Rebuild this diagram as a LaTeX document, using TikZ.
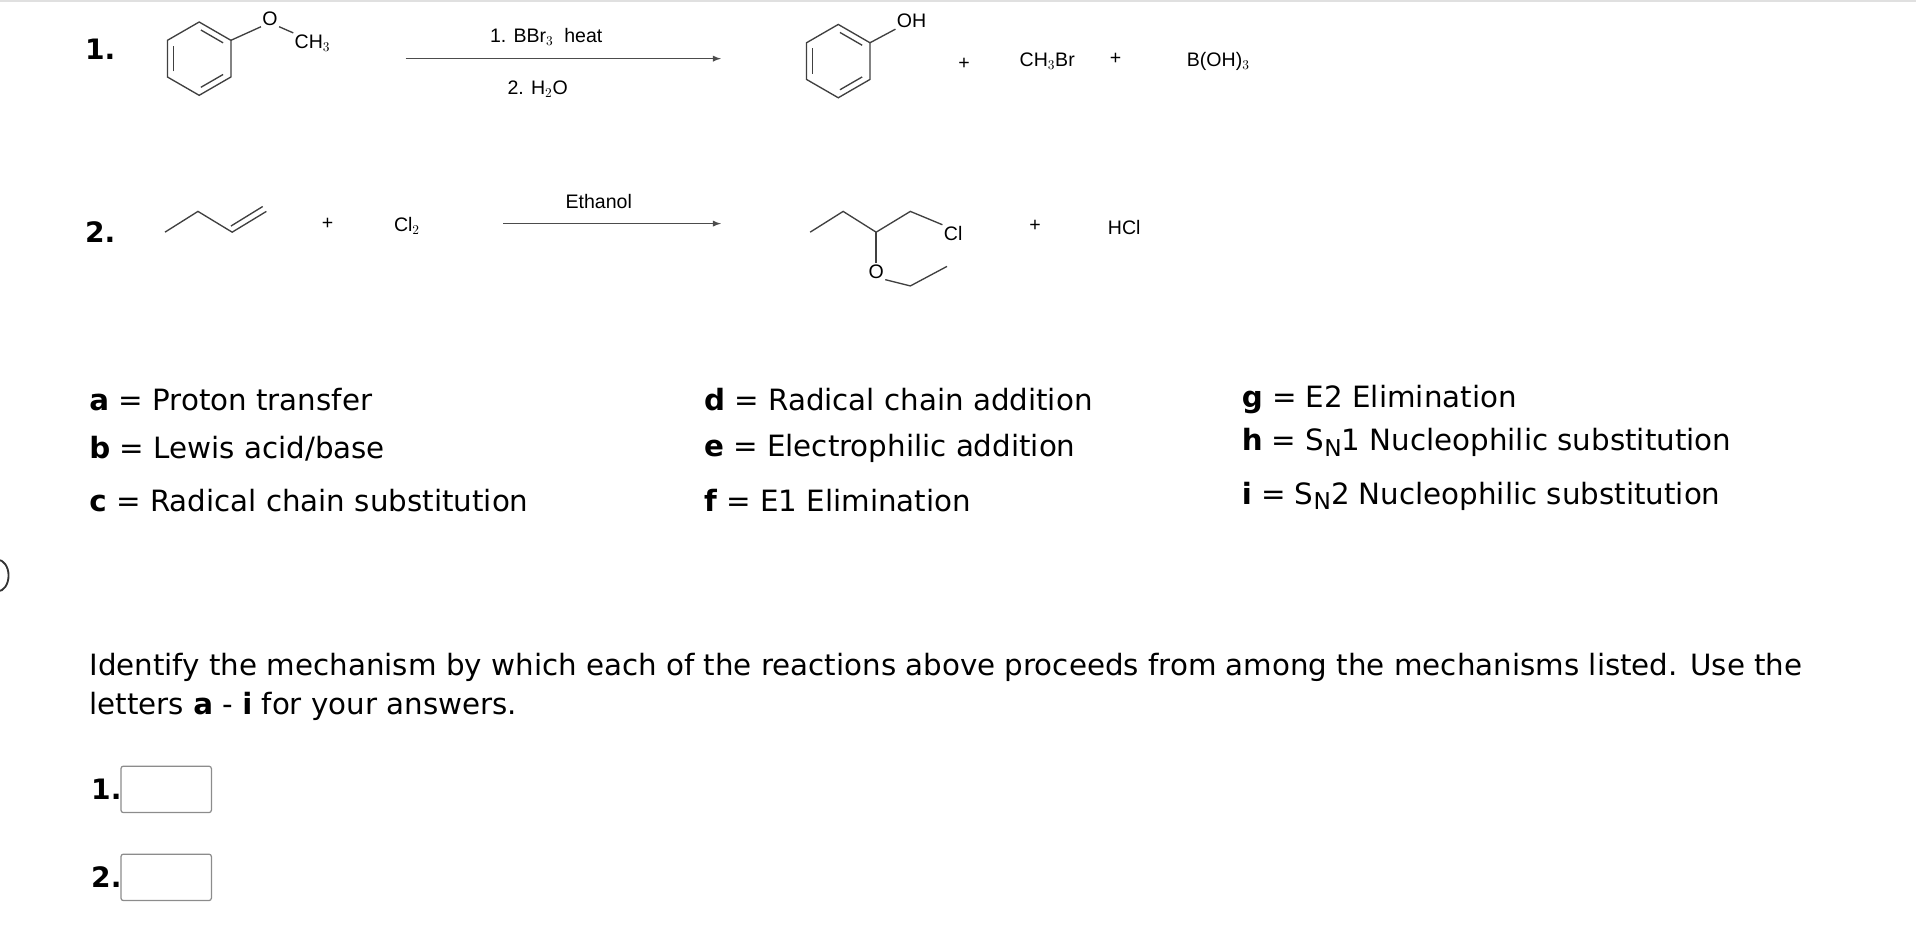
\documentclass[tikz,border=0pt]{standalone}
\usepackage{fontspec}
\usetikzlibrary{calc}
\setmainfont{DejaVu Sans}
\newfontfamily\chem{Liberation Sans}
\begin{document}
\begin{tikzpicture}[x=1pt,y=-1pt,
  ch/.style={font=\chem\fontsize{16}{18}\selectfont,inner sep=1pt},
  txt/.style={font=\fontsize{24}{28}\selectfont,anchor=west,inner sep=0pt},
  num/.style={font=\bfseries\fontsize{23}{27}\selectfont,inner sep=0pt},
  bond/.style={line width=1.1pt,color=black!75},
  arr/.style={line width=1.3pt,color=black!70,-latex},
  ansbox/.style={draw=black!45,rounded corners=2pt,line width=1pt,minimum width=74pt,minimum height=38pt,inner sep=0pt}]
\useasboundingbox (0,0) rectangle (1568,758);
\draw[black!12,line width=2pt] (0,1) -- (1568,1);
\draw[black!80,line width=1.5pt] (-2,484) arc (90:-90:9 and 13);
% reaction 1
\node[num] (n1) at (82,40) {1.};
\foreach \a [count=\i] in {90,30,-30,-90,-150,150} \coordinate (r\i) at ($(163,48)+(\a:30 and -30)$);
\draw[bond] (r1)--(r2)--(r3)--(r4)--(r5)--(r6)--cycle;
\draw[bond] ($(r5)!0.15!(r6)+(5,0)$)--($(r6)!0.15!(r5)+(5,0)$);
\draw[bond] ($(r3)!0.15!(r4)+(-2.5,-4.3)$)--($(r4)!0.15!(r3)+(-2.5,-4.3)$);
\draw[bond] ($(r1)!0.15!(r2)+(-2.5,4.3)$)--($(r2)!0.15!(r1)+(-2.5,4.3)$);
\node[ch] (o1) at (221,15) {O};
\node[ch,anchor=west] (me) at (240,35) {CH$_3$};
\draw[bond] (r2)--(o1.south west);
\draw[bond] (o1.south east)--(me.north west);
\draw[arr] (332,48) coordinate (a1s) -- (590,48) coordinate (a1e);
\node[ch] (c1) at (447,30) {1. BBr$_3$\ \ heat};
\node[ch] (c2) at (440,73) {2. H$_2$O};
\foreach \a [count=\i] in {90,30,-30,-90,-150,150} \coordinate (p\i) at ($(686,50)+(\a:30 and -30)$);
\draw[bond] (p1)--(p2)--(p3)--(p4)--(p5)--(p6)--cycle;
\draw[bond] ($(p5)!0.15!(p6)+(5,0)$)--($(p6)!0.15!(p5)+(5,0)$);
\draw[bond] ($(p3)!0.15!(p4)+(-2.5,-4.3)$)--($(p4)!0.15!(p3)+(-2.5,-4.3)$);
\draw[bond] ($(p1)!0.15!(p2)+(-2.5,4.3)$)--($(p2)!0.15!(p1)+(-2.5,4.3)$);
\node[ch] (oh) at (746,17) {OH};
\draw[bond] (p2)--(oh.south west);
\node[ch] (pl1) at (789,52) {+};
\node[ch] (mebr) at (857,50) {CH$_3$Br};
\node[ch] (pl2) at (913,48) {+};
\node[ch] (boh) at (997,50) {B(OH)$_3$};
% reaction 2
\node[num] (n2) at (82,190) {2.};
\coordinate (q1) at (135,190); \coordinate (q2) at (162,173); \coordinate (q3) at (190,190); \coordinate (q4) at (218,173);
\draw[bond] (q1)--(q2)--(q3)--(q4);
\draw[bond] ($(q3)+(-1,-5)$)--($(q4)+(-3,-4)$);
\node[ch] (pl3) at (268,183) {+};
\node[ch] (cl2) at (333,185) {Cl$_2$};
\draw[arr] (412,183) coordinate (a2s) -- (590,183) coordinate (a2e);
\node[ch] (eth) at (490,165) {Ethanol};
\coordinate (s1) at (663,190); \coordinate (s2) at (690,173); \coordinate (s3) at (717,190); \coordinate (s4) at (745,173);
\node[ch] (cl) at (780,191) {Cl};
\node[ch] (o2) at (717,222) {O};
\coordinate (s5) at (745,234); \coordinate (s6) at (775,218);
\draw[bond] (s1)--(s2)--(s3)--(s4)--(cl.north west);
\draw[bond] (s3)--(o2.north);
\draw[bond] (o2.south east)--(s5)--(s6);
\node[ch] (pl4) at (847,185) {+};
\node[ch] (hcl) at (920,186) {HCl};
% list
\newcommand\sn{S\raisebox{-0.35ex}{\fontsize{19}{21}\selectfont N}}
\node[txt] (la) at (73,327) {\textbf{a} = Proton transfer};
\node[txt] (lb) at (73,367) {\textbf{b} = Lewis acid/base};
\node[txt] (lc) at (73,410) {\textbf{c} = Radical chain substitution};
\node[txt] (ld) at (576,327) {\textbf{d} = Radical chain addition};
\node[txt] (le) at (576,367) {\textbf{e} = Electrophilic addition};
\node[txt] (lf) at (576,410) {\textbf{f} = E1 Elimination};
\node[txt] (lg) at (1016,327) {\textbf{g} = E2 Elimination};
\node[txt] (lh) at (1016,362) {\textbf{h} = \sn1 Nucleophilic substitution};
\node[txt] (li) at (1016,406) {\textbf{i} = \sn2 Nucleophilic substitution};
\node[txt] (q1t) at (73,546) {Identify the mechanism by which each of the reactions above proceeds from among the mechanisms listed. Use the};
\node[txt] (q2t) at (73,578) {letters \textbf{a} - \textbf{i} for your answers.};
\node[num] (b1l) at (87,646) {1.};
\node[ansbox] (b1) at (136,646) {};
\node[num] (b2l) at (87,718) {2.};
\node[ansbox] (b2) at (136,718) {};
\end{tikzpicture}
\end{document}
